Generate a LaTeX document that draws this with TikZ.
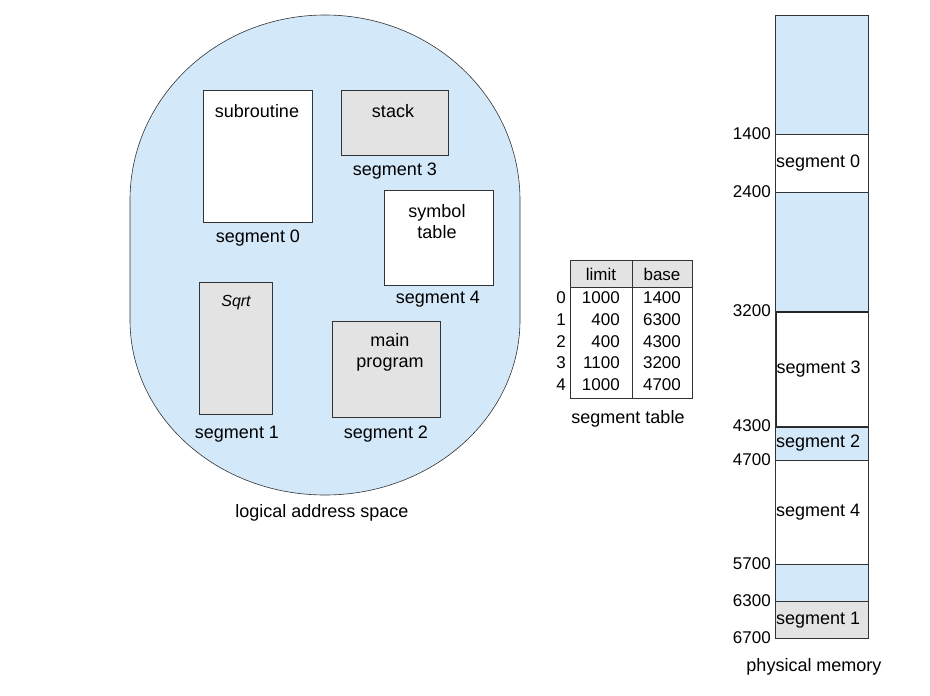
\documentclass[tikz,border=0pt]{standalone}
\usepackage{fontspec}
\setmainfont{Liberation Sans}
\definecolor{lblue}{HTML}{D3E8F9}
\definecolor{lgray}{HTML}{E3E3E3}
\begin{document}
\begin{tikzpicture}[x=1pt,y=-1pt,
  seg/.style={draw=black!80,line width=0.8pt},
  lbl/.style={font=\fontsize{18}{21}\selectfont,inner sep=0},
  tb/.style={font=\fontsize{17}{19}\selectfont,inner sep=0}]
\useasboundingbox (0,0) rectangle (930,696);
% logical address space blob
\draw[fill=lblue,draw=black!80,line width=0.6pt] (130,200) arc[start angle=180,end angle=360,x radius=195,y radius=185]
  -- (520,320) arc[start angle=0,end angle=180,x radius=195,y radius=175] -- cycle;
\node[seg,fill=white,minimum width=109,minimum height=132,anchor=north west] (s0) at (203,90) {};
\node[lbl] (s0t) at (257,111) {subroutine};
\node[lbl] (s0l) at (258,238) {segment 0};
\node[seg,fill=lgray,minimum width=107,minimum height=65,anchor=north west] (s3) at (341,90) {};
\node[lbl] (s3t) at (393,111) {stack};
\node[lbl] (s3l) at (395,171) {segment 3};
\node[seg,fill=white,minimum width=109,minimum height=95,anchor=north west] (s4) at (384,190) {};
\node[lbl,align=center] (s4t) at (437,222) {symbol\\table};
\node[lbl] (s4l) at (438,299) {segment 4};
\node[seg,fill=lgray,minimum width=73,minimum height=132,anchor=north west] (s1) at (199,282) {};
\node[lbl,font=\itshape\fontsize{16}{18}\selectfont] (s1t) at (236,303) {Sqrt};
\node[lbl] (s1l) at (237,434) {segment 1};
\node[seg,fill=lgray,minimum width=108,minimum height=96,anchor=north west] (s2) at (332,321) {};
\node[lbl,align=center] (s2t) at (390,352) {main\\program};
\node[lbl] (s2l) at (386,434) {segment 2};
\node[lbl] (las) at (322,513) {logical address space};
% segment table
\fill[lgray] (570,260) rectangle (692,287);
\draw[line width=0.8pt,draw=black!80] (570,260) rectangle (692,398) (570,287)--(692,287) (632,260)--(632,398);
\node[tb] (hl) at (601,274) {limit};
\node[tb] (hb) at (662,274) {base};
\foreach \i/\l/\b/\y in {0/1000/1400/298,1/400/6300/320,2/400/4300/342,3/1100/3200/363,4/1000/4700/385}{
  \node[tb] (i\i) at (561,\y) {\i};
  \node[tb,anchor=east] (l\i) at (620,\y) {\l};
  \node[tb] (b\i) at (662,\y) {\b};
}
\node[lbl] (st) at (628,419) {segment table};
% physical memory
\fill[lblue] (775,15) rectangle (868,638);
\node[seg,fill=white,minimum width=93,minimum height=58,anchor=north west] (m0) at (775,134) {};
\node[lbl,anchor=west,xshift=1pt] at (m0.west) {segment 0};
\node[draw=black!85,line width=1.5pt,fill=white,minimum width=92,minimum height=115,anchor=north west] (m3) at (775.5,311) {};
\node[lbl,anchor=west,xshift=1pt] at (m3.west) {segment 3};
\node[seg,minimum width=93,minimum height=34,anchor=north west] (m2) at (775,426) {};
\node[lbl,anchor=west,xshift=1pt] at (m2.west) {segment 2};
\node[seg,fill=white,minimum width=93,minimum height=104,anchor=north west] (m4) at (775,460) {};
\node[lbl,anchor=west,xshift=1pt] at (m4.west) {segment 4};
\node[seg,fill=lgray,minimum width=93,minimum height=37,anchor=north west] (m1) at (775,601) {};
\node[lbl,anchor=west,xshift=1pt] at (m1.west) {segment 1};
\draw[seg] (775,15) rectangle (868,638);
\foreach \v/\y in {1400/134,2400/192,3200/311,4300/426,4700/460,5700/564,6300/601,6700/638}
  \node[tb,anchor=east] at (771,\y) {\v};
\node[lbl] (pm) at (814,667) {physical memory};
\end{tikzpicture}
\end{document}
